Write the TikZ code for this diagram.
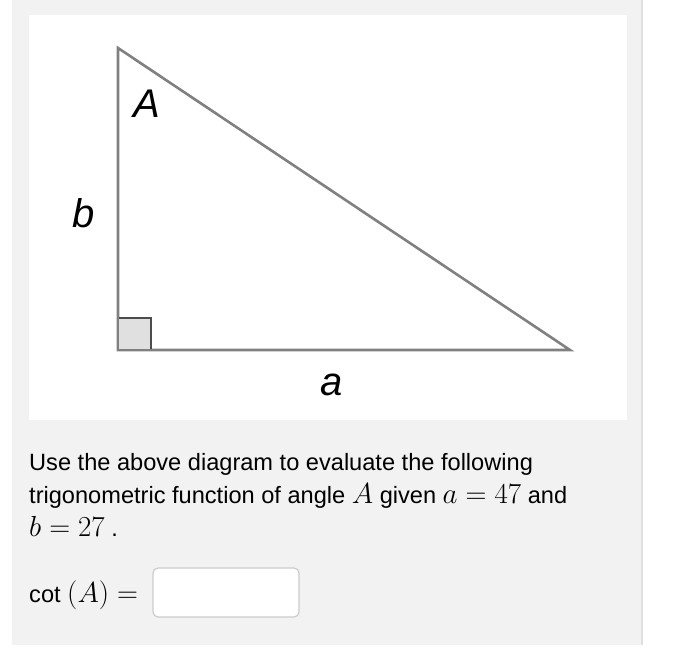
\RequirePackage{fix-cm}
\documentclass[tikz,border=0pt]{standalone}
\usepackage{fontspec}
\setmainfont{Liberation Sans}
\newcommand{\mymath}[1]{{\fontsize{29}{30}\selectfont$#1$}}
\begin{document}
\begin{tikzpicture}[x=1pt,y=-1pt,
  edge/.style={draw=black!50,line width=2.6pt,line join=miter},
  lbl/.style={font=\fontsize{40}{40}\selectfont\itshape,inner sep=0pt},
  txt/.style={font=\fontsize{23.6}{28}\selectfont,inner sep=0pt,anchor=base west}]
\useasboundingbox (0,0) rectangle (700,650);
\fill[white] (0,0) rectangle (700,650);
\fill[black!5] (12,0) rectangle (642,645);
\draw[black!12,line width=1.5pt] (642,0) -- (642,645);
\fill[white] (29,15) rectangle (627,420);
% triangle
\coordinate (T) at (118,48);
\coordinate (C) at (118,350);
\coordinate (R) at (570,350);
\draw[edge] (T) -- (C) -- (R) -- cycle;
\draw[fill=black!12,draw=black!70,line width=2pt] (C) rectangle (151,318);
\draw[edge] (T) -- (C) -- (R);
\node[lbl] (lA) at (147,104) {A};
\node[lbl] (lb) at (84,213) {b};
\node[lbl] (la) at (332,385) {a};
% text
\node[txt] (t1) at (29,470) {Use the above diagram to evaluate the following};
\node[txt] (t2) at (29,503) {trigonometric function of angle \mymath{A} given \mymath{a=47} and};
\node[txt] (t3) at (29,536) {\mymath{b=27}\ .};
\node[txt] (t4) at (29,602) {cot \mymath{(A)=}};
\draw[rounded corners=5pt,fill=white,draw=black!20,line width=1.2pt] (153,568) rectangle (299,617);
\end{tikzpicture}
\end{document}
